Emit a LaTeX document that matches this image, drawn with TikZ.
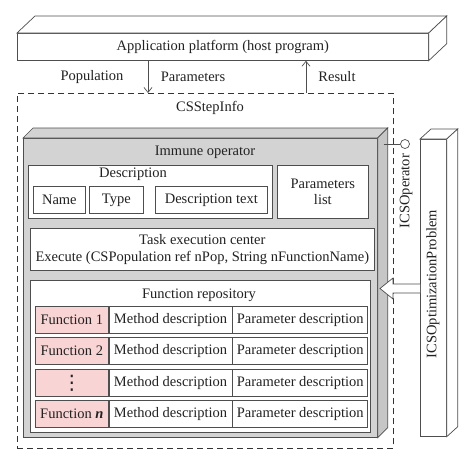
\documentclass[tikz,border=0pt]{standalone}
\usepackage{fontspec}
\setmainfont{Liberation Serif}
\newfontfamily\dotsfont{DejaVu Sans}
\usetikzlibrary{arrows.meta}

\definecolor{EdgeGray}{HTML}{4E4E4E}
\definecolor{BodyGray}{HTML}{D3D3D3}
\definecolor{SideGray}{HTML}{C6C6C6}
\definecolor{CellPink}{HTML}{F8D4D4}
\definecolor{InkGray}{HTML}{222222}

\begin{document}
\begin{tikzpicture}[x=1pt, y=-1pt,
        font = \fontsize{14.5}{16.5}\selectfont,
        text = InkGray]
        \tikzset{
            BoxStyle/.style = {
                draw = EdgeGray,
                fill = white,
                line width = 0.7pt,
                inner sep = 0pt,
                anchor = north west},
            CellStyle/.style = {BoxStyle, minimum height = 27},
            PinkStyle/.style = {CellStyle, fill = CellPink},
            FaceStyle/.style = {draw = EdgeGray, line width = 0.7pt},
            InfoStyle/.style = {BoxStyle, draw = black!80, fill = none,
                dash pattern = on 6pt off 4pt},
            PortArrow/.style = {draw = EdgeGray, line width = 0.7pt,
                -{Straight Barb[length = 5pt, width = 8pt]}}
                }
    \useasboundingbox (0,0) rectangle (474,464);
    % host program
    \node[BoxStyle, minimum width = 411, minimum height = 27] (platform) at (17,33)
        {Application platform (host program)};
    \draw[FaceStyle, fill = white] (platform.north west) -- ++(18,-17)
        -- ([shift = {(18,-17)}]platform.north east) -- (platform.north east) -- cycle;
    \draw[FaceStyle, fill = white] (platform.north east) -- ++(18,-17)
        -- ([shift = {(18,-17)}]platform.south east) -- (platform.south east) -- cycle;
    % step info container
    \node[InfoStyle, minimum width = 376, minimum height = 355] (info) at (17,93) {};
    \node (infotitle) at (210,108) {CSStepInfo};
    \coordinate (popx) at (148,0);
    \coordinate (resx) at (306,0);
    \draw[PortArrow] (platform.south -| popx) -- (info.north -| popx);
    \draw[PortArrow] (info.north -| resx) -- (platform.south -| resx);
    \node (population) at (92,77) {Population};
    \node (parameters) at (193,77) {Parameters};
    \node (result) at (337,77) {Result};
    % immune operator
    \node[BoxStyle, fill = BodyGray, minimum width = 354, minimum height = 299] (immune) at (23,138) {};
    \draw[FaceStyle, fill = BodyGray] (immune.north west) -- ++(10,-10)
        -- ([shift = {(10,-10)}]immune.north east) -- (immune.north east) -- cycle;
    \draw[FaceStyle, fill = SideGray] (immune.north east) -- ++(10,-10)
        -- ([shift = {(10,-10)}]immune.south east) -- (immune.south east) -- cycle;
    \node (immunetitle) at (205,152) {Immune operator};
    \node[BoxStyle, minimum width = 244, minimum height = 53] (desc) at (28,165) {};
    \node (desctitle) at (133,174) {Description};
    \node[CellStyle, minimum width = 52] (name) at (33,186) {Name};
    \node[CellStyle, minimum width = 54] (type) at (89,186) {Type};
    \node[CellStyle, minimum width = 112] (desctext) at (155,186) {Description text};
    \node[BoxStyle, minimum width = 91, minimum height = 53, align = center] (paramlist) at (277,165)
        {Parameters\\list};
    \node[BoxStyle, minimum width = 344, minimum height = 42, align = center] (task) at (30,228)
        {Task execution center\\Execute (CSPopulation ref nPop, String nFunctionName)};
    % function repository
    \node[BoxStyle, minimum width = 340, minimum height = 152] (repo) at (30,280) {};
    \node (repotitle) at (199,295) {Function repository};
    \node[PinkStyle, minimum width = 73] (fun1) at (35,306) {Function 1};
    \node[CellStyle, minimum width = 123] (meth1) at (fun1.north east) {Method description};
    \node[CellStyle, minimum width = 135] (par1) at (meth1.north east) {Parameter description};
    \node[PinkStyle, minimum width = 73] (fun2) at (35,337) {Function 2};
    \node[CellStyle, minimum width = 123] (meth2) at (fun2.north east) {Method description};
    \node[CellStyle, minimum width = 135] (par2) at (meth2.north east) {Parameter description};
    \node[PinkStyle, minimum width = 73, font = \dotsfont\fontsize{20}{20}\selectfont] (fun3) at (35,369) {⋮};
    \node[CellStyle, minimum width = 123] (meth3) at (fun3.north east) {Method description};
    \node[CellStyle, minimum width = 135] (par3) at (meth3.north east) {Parameter description};
    \node[PinkStyle, minimum width = 73] (fun4) at (35,400) {Function \textbf{\textit{n}}};
    \node[CellStyle, minimum width = 123] (meth4) at (fun4.north east) {Method description};
    \node[CellStyle, minimum width = 135] (par4) at (meth4.north east) {Parameter description};
    % operator interface
    \node[circle, draw = EdgeGray, fill = white, line width = 0.7pt,
        minimum size = 9, inner sep = 0pt] (opball) at (405,144) {};
    \draw[FaceStyle] ([xshift = 6pt]immune.east |- opball) -- (opball);
    \node[rotate = 90] (oplabel) at (406,191) {ICSOperator};
    % optimization problem
    \node[BoxStyle, minimum width = 26, minimum height = 297] (optprob) at (420,139) {};
    \draw[FaceStyle, fill = white] (optprob.north west) -- ++(11,-10)
        -- ([shift = {(11,-10)}]optprob.north east) -- (optprob.north east) -- cycle;
    \draw[FaceStyle, fill = white] (optprob.north east) -- ++(11,-10)
        -- ([shift = {(11,-10)}]optprob.south east) -- (optprob.south east) -- cycle;
    \node[rotate = 90] (optlabel) at (433,284) {ICSOptimizationProblem};
    \draw[FaceStyle, fill = white] (optprob.west |- 0,284) -- (393,284) -- (393,278)
        -- (380,288.5) -- (393,299) -- (393,293) -- (optprob.west |- 0,293);
\end{tikzpicture}
\end{document}
